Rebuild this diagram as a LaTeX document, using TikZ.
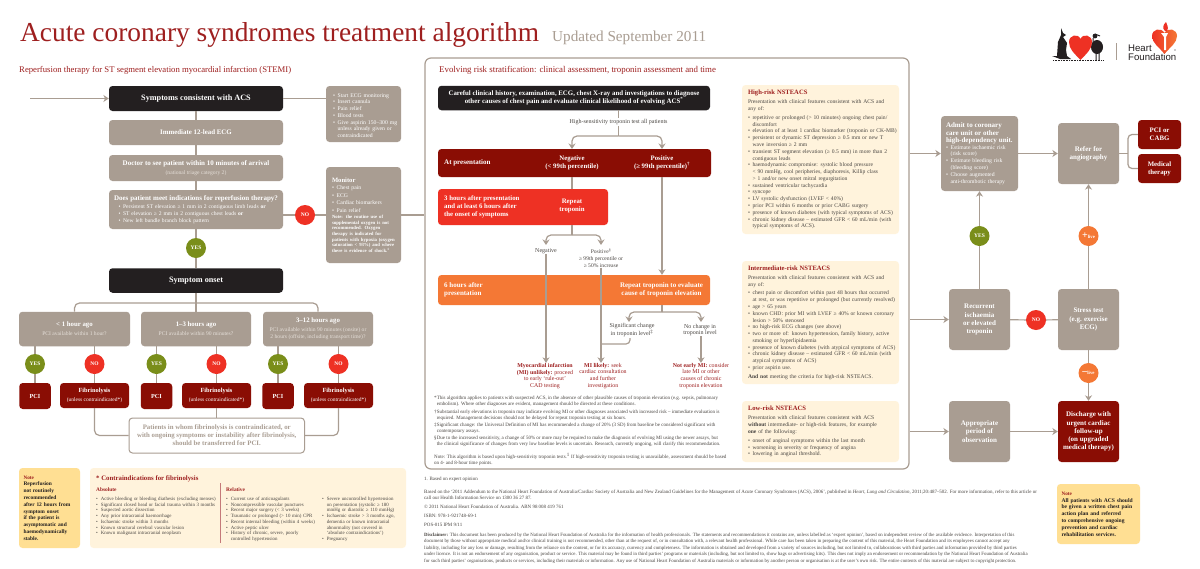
\documentclass[tikz,border=0pt]{standalone}
\usepackage{fontspec}
\setmainfont{Liberation Serif}
\newfontfamily\logofont{Liberation Sans}
\usetikzlibrary{arrows.meta,calc}
\definecolor{Taupe}{HTML}{A99D92}
\definecolor{Pale}{HTML}{E6E0DA}
\definecolor{Ink}{HTML}{231F20}
\definecolor{Crimson}{HTML}{8A0D04}
\definecolor{Hot}{HTML}{EE3124}
\definecolor{Tangerine}{HTML}{F47835}
\definecolor{Olive}{HTML}{7A8E1A}
\definecolor{Cream}{HTML}{FFF3DC}
\definecolor{Butter}{HTML}{FFDF93}
\definecolor{HeadRed}{HTML}{9E1F1F}
\definecolor{Body}{HTML}{4A4642}
\newcommand{\fs}[2]{\fontsize{#1}{#2}\selectfont}
\newcommand{\pad}[1]{\leftskip=#1pt\relax}
\newcommand{\bl}{\par\leavevmode\hbox to 4.6pt{\textbullet\hss}}
\newcommand{\cn}{\\\hspace*{4.6pt}}
\tikzset{
  box/.style={fill=Taupe,text=white,rounded corners=3.5pt,align=center,inner sep=0pt},
  sz/.style 2 args={minimum width=#1pt,minimum height=#2pt},
  blackbox/.style={box,fill=Ink},
  redbox/.style={box,fill=Crimson},
  hotbox/.style={box,fill=Hot},
  orangebox/.style={box,fill=Tangerine},
  creambox/.style={box,fill=Cream,text=Body,align=left},
  notebox/.style={box,fill=Butter,text=Ink,align=left},
  yesdot/.style={circle,fill=Olive,text=white,minimum size=20pt,inner sep=0pt,font=\fs{5.5}{6}\bfseries},
  nodot/.style={yesdot,fill=Hot},
  livedot/.style={yesdot,fill=Tangerine},
  flow/.style={draw=Taupe,line width=1.2pt},
  arr/.style={flow,-{Stealth[length=5.5pt,width=7pt]}},
  lbl/.style={align=center,inner sep=0pt,text=Body,font=\fs{6}{6.8}},
  tiny/.style={align=left,inner sep=0pt,anchor=north west,text=Body,font=\fs{5}{6}},
  small/.style={tiny,font=\fs{4.95}{5.6}},
  riskbox/.style={creambox,text width=157pt,inner xsep=0pt,font=\fs{5.6}{6.78}},
}
\begin{document}
\begin{tikzpicture}[x=1pt,y=-1pt]
  \useasboundingbox (0,0) rectangle (1200,568);
  \fill[white] (0,0) rectangle (1200,568);
  % title
  \node[anchor=base west,inner sep=0pt,text=HeadRed,font=\fs{27.4}{30}] (title) at (20,41) {Acute coronary syndromes treatment algorithm};
  \node[anchor=base west,inner sep=0pt,text=Taupe,font=\fs{15.2}{17}] (updated) at (552,41) {Updated September 2011};
  \node[anchor=base west,inner sep=0pt,text=HeadRed,font=\fs{8.7}{9}] (stemi) at (19,72) {Reperfusion therapy for ST segment elevation myocardial infarction (STEMI)};
  % logo
  \fill[Ink] (1061,28) -- (1063,33) -- (1066,35) -- (1063,37) -- (1067,43) -- (1066,50) -- (1067,56) -- (1071,59) -- (1060,59) -- (1052,56) -- (1057,56) -- (1058,42) -- (1061,35) -- cycle;
  \fill[Ink] (1097,47) ellipse (6pt and 7pt);
  \fill[Ink] (1095,36) circle (2.4pt);
  \draw[Ink,line width=1pt] (1095,34) -- (1100,36) (1093,38) -- (1093,44) (1096,52) -- (1096,60) (1099,52) -- (1099,60);
  \draw[Ink,line width=.6pt,densely dotted] (1053,60) -- (1103,60);
  \fill[Hot] (1080.5,60) .. controls (1074,53) and (1069,49) .. (1069,42) .. controls (1069,35) and (1078,33) .. (1080.5,39) .. controls (1083,33) and (1092,35) .. (1092,42) .. controls (1092,49) and (1087,53) .. (1080.5,60) -- cycle;
  \draw[Taupe,line width=.7pt] (1116,43) -- (1116,60);
  \node[anchor=base west,inner sep=0pt,text=Ink,font=\fs{9.6}{10}\logofont] (heartTxt) at (1128,51.5) {Heart};
  \node[anchor=base west,inner sep=0pt,text=Ink,font=\fs{9.6}{10}\logofont] (foundTxt) at (1128,60.5) {Foundation};
  \shade[left color=Hot,right color=Tangerine] (1164.5,54) .. controls (1159,47) and (1152,43) .. (1152,36) .. controls (1152,29) and (1161,27) .. (1164.5,33) .. controls (1168,27) and (1177,29) .. (1177,36) .. controls (1177,43) and (1170,47) .. (1164.5,54) -- cycle;
  \fill[Hot] (1165,31) .. controls (1162,28) and (1163,25) .. (1166,22) .. controls (1167,25) and (1169,27) .. (1167,31) -- cycle;
  \fill[white] (1161,33) -- (1168,33) -- (1166,37) -- (1166,50) -- (1164,50) -- (1164,37) -- cycle;
  \fill[Ink] (1175,50) circle (.7pt);
  % STEMI pathway
  \coordinate (startArr) at (30,98.5);
  \node[blackbox,sz={174}{25},font=\fs{8.2}{10}\bfseries] (acs) at (196,98.5) {Symptoms consistent with ACS};
  \node[box,sz={174}{25},font=\fs{6.9}{9}\bfseries] (ecg) at (196,132.5) {Immediate 12-lead ECG};
  \node[box,sz={174}{26},font=\fs{6}{9}] (doctor) at (196,168) {{\fs{7}{9}\bfseries Doctor to see patient within 10 minutes of arrival}\\{\fs{5.6}{6.5}\color{Pale}(national triage category 2)}};
  \node[box,sz={174}{39},align=left,text width=155pt,inner xsep=9.5pt,font=\fs{5.6}{6.8}\color{Pale}] (indic) at (196,209.5) {\makebox[\linewidth][c]{\fs{7}{8.6}\bfseries\color{white}Does patient meet indications for reperfusion therapy?}\par\vspace{1pt}
    \bl Persistent ST elevation ≥ 1 mm in 2 contiguous limb leads {\color{white}\bfseries or}
    \bl ST elevation ≥ 2 mm in 2 contiguous chest leads {\color{white}\bfseries or}
    \bl New left bundle branch block pattern\par};
  \node[yesdot] (yesA) at (196,248) {YES};
  \node[box,blackbox,sz={174}{24.5},font=\fs{8.2}{10}\bfseries] (onset) at (196,280.5) {Symptom onset};
  \node[box,sz={75}{56},align=left,text width=71pt,inner xsep=2pt,font=\fs{5.7}{6.7}\color{Pale}] (first) at (363.5,114) {\pad{5}\bl Start ECG monitoring
    \bl Insert cannula
    \bl Pain relief
    \bl Blood tests
    \bl Give aspirin 150--300 mg\cn unless already given or\cn contraindicated\par};
  \node[nodot] (noA) at (305,215) {NO};
  \node[box,sz={75}{96},align=left,text width=67pt,inner xsep=4pt,font=\fs{5.7}{7.6}\color{Pale}] (monitor) at (363.5,215) {\pad{2}{\fs{6.6}{8}\bfseries\color{white}Monitor}
    \bl Chest pain
    \bl ECG
    \bl Cardiac biomarkers
    \bl Pain relief\par\vspace{.5pt}
    {\fs{4.75}{5.65}\bfseries\color{white}Note: the routine use of\\supplemental oxygen is not\\recommended. Oxygen\\therapy is indicated for\\patients with hypoxia (oxygen\\saturation < 93\%) and where\\there is evidence of shock.\textsuperscript{1}\par}};
  \draw[arr] (startArr) -- (acs.west);
  \draw[flow] (acs.east) -- (first.west |- acs.east);
  \draw[flow] (acs) -- (ecg);
  \draw[flow] (ecg) -- (doctor);
  \draw[flow] (doctor) -- (indic);
  \draw[flow] (indic) -- (yesA);
  \draw[flow] (yesA) -- (onset);
  \draw[flow] (indic.east |- noA) -- (noA);
  \draw[flow] (noA) -- (monitor.west);
  % hours since onset
  \node[box,sz={111}{34.5},font=\fs{6}{9}] (hrA) at (74.5,329) {{\fs{6.8}{8.4}\bfseries < 1 hour ago}\\{\fs{5.6}{6.4}\color{Pale}PCI available within 1 hour?}};
  \node[box,sz={110}{34.5},font=\fs{6}{9}] (hrB) at (196,329) {{\fs{6.8}{8.4}\bfseries 1--3 hours ago}\\{\fs{5.6}{6.4}\color{Pale}PCI available within 90 minutes?}};
  \node[box,sz={110}{34.5},font=\fs{6}{9}] (hrC) at (318,329) {{\fs{6.8}{8.4}\bfseries 3--12 hours ago}\\{\fs{5.6}{6.4}\color{Pale}PCI available within 90 minutes (onsite) or}\\[-2.2pt]{\fs{5.6}{6.4}\color{Pale}2 hours (offsite, including transport time)?}};
  \coordinate (onsetJ) at (196,303);
  \draw[flow,rounded corners=5pt] (hrA.north) |- (onsetJ) -| (hrC.north);
  \draw[flow] (onset) -- (hrB);
  \node[box,sz={175.5}{35},fill=white,draw=Taupe,line width=1pt,text=Taupe,font=\fs{6.8}{7.9}\bfseries] (transfer) at (216.75,435.5) {Patients in whom fibrinolysis is contraindicated, or\\with ongoing symptoms or instability after fibrinolysis,\\should be transferred for PCI.};
  \foreach \n/\h/\xa/\xb in {1/hrA/35/94.5,2/hrB/156.5/216.5,3/hrC/278/338.5}{
    \node[yesdot] (yes\n) at (\xa,364) {YES};
    \node[nodot] (no\n) at (\xb,364) {NO};
    \node[redbox,sz={31.5}{26},font=\fs{6.2}{8}\bfseries] (pci\n) at (\xa,396) {PCI};
    \node[redbox,sz={69}{25},font=\fs{6}{9.3}] (fib\n) at (\xb,395.5) {{\fs{6.3}{8}\bfseries Fibrinolysis}\\{\fs{5.5}{6}(unless contraindicated*)}};
    \draw[flow] (\h.south -| yes\n) -- (yes\n);
    \draw[flow] (\h.south -| no\n) -- (no\n);
    \draw[flow] (yes\n) -- (pci\n);
    \draw[flow] (no\n) -- (fib\n);
  }
  \draw[flow,rounded corners=5pt] (fib1.south) |- (transfer.west);
  \draw[flow] (fib2.south) -- (transfer.north -| fib2.south);
  \draw[flow,rounded corners=5pt] (fib3.south) |- (transfer.east);
  % notes under STEMI
  \node[notebox,sz={61}{80},text width=52pt,inner xsep=4.5pt,font=\fs{5.45}{6.8}\bfseries] (noteL) at (49.5,508) {{\fs{5.2}{7.4}\color{HeadRed}Note}\\Reperfusion\\not routinely\\recommended\\after 12 hours from\\symptom onset\\if the patient is\\asymptomatic and\\haemodynamically\\stable.};
  \node[creambox,sz={316}{80}] (contra) at (248,508) {};
  \node[anchor=base west,inner sep=0pt,text=HeadRed,font=\fs{6.8}{9}\bfseries] (contraHead) at (96,480) {* Contraindications for fibrinolysis};
  \node[anchor=base west,inner sep=0pt,text=HeadRed,font=\fs{5.4}{6}\bfseries] (absHead) at (96,491) {Absolute};
  \node[anchor=base west,inner sep=0pt,text=HeadRed,font=\fs{5.4}{6}\bfseries] (relHead) at (226,491) {Relative};
  \node[tiny,text width=125pt,font=\fs{4.9}{5.75}] (absList) at (96,494.5) {\bl Active bleeding or bleeding diathesis (excluding menses)
    \bl Significant closed head or facial trauma within 3 months
    \bl Suspected aortic dissection
    \bl Any prior intracranial haemorrhage
    \bl Ischaemic stroke within 3 months
    \bl Known structural cerebral vascular lesion
    \bl Known malignant intracranial neoplasm\par};
  \node[tiny,text width=92pt,font=\fs{4.9}{5.75}] (relList) at (226,494.5) {\bl Current use of anticoagulants
    \bl Noncompressible vascular punctures
    \bl Recent major surgery (< 3 weeks)
    \bl Traumatic or prolonged (> 10 min) CPR
    \bl Recent internal bleeding (within 4 weeks)
    \bl Active peptic ulcer
    \bl History of chronic, severe, poorly\cn controlled hypertension\par};
  \node[tiny,text width=80pt,font=\fs{4.9}{5.75}] (relExtra) at (322,494.5) {\bl Severe uncontrolled hypertension\cn on presentation (systolic ≥ 180\cn mmHg or diastolic ≥ 110 mmHg)
    \bl Ischaemic stroke > 3 months ago,\cn dementia or known intracranial\cn abnormality (not covered in\cn `absolute contraindications')
    \bl Pregnancy\par};
  \coordinate (divTop) at (220,483);
  \coordinate (divEnd) at (220,543);
  \draw[HeadRed!60,line width=.6pt] (divTop) -- (divEnd);
  % evolving risk frame
  \node[draw=Taupe,line width=1.2pt,rounded corners=6pt,minimum width=484pt,minimum height=411pt,inner sep=0pt] (frame) at (667,263.5) {};
  \draw[flow] (monitor.east) -- (frame.west |- monitor.east);
  \node[anchor=base west,inner sep=0pt,text=HeadRed,font=\fs{8.85}{9}] (evolving) at (439,72) {Evolving risk stratification: clinical assessment, troponin assessment and time};
  \node[blackbox,sz={272}{24.5},font=\fs{6.85}{8.2}\bfseries] (history) at (574,98) {Careful clinical history, examination, ECG, chest X-ray and investigations to diagnose\\other causes of chest pain and evaluate clinical likelihood of evolving ACS\textsuperscript{*}};
  \node[lbl,fill=white,inner ysep=1pt,font=\fs{6}{6.5}] (hsTest) at (618.5,122) {High-sensitivity troponin test all patients};
  \node[redbox,sz={273}{28}] (atPres) at (574.5,163) {};
  \node[anchor=west,inner sep=0pt,text=white,font=\fs{7}{8}\bfseries] (atPresTxt) at (444,163) {At presentation};
  \node[inner sep=0pt,align=center,text=white,font=\fs{6.8}{8.3}\bfseries] (negTxt) at (572,163) {Negative\\(< 99th percentile)};
  \node[inner sep=0pt,align=center,text=white,font=\fs{6.8}{8.3}\bfseries] (posTxt) at (662,163) {Positive\\(≥ 99th percentile)\textsuperscript{\dag}};
  \coordinate (hsJ) at (618.5,136);
  \coordinate (negIn) at (572,149);
  \coordinate (posIn) at (662,149);
  \draw[flow] (history.south -| hsTest) -- (hsTest);
  \draw[flow] (hsTest) -- (hsJ);
  \draw[arr,rounded corners=5pt] (hsJ) -| (negIn);
  \draw[arr,rounded corners=5pt] (hsJ) -| (posIn);
  \node[hotbox,sz={170}{36}] (threeH) at (523,207) {};
  \node[anchor=west,inner sep=0pt,align=left,text=white,font=\fs{6.8}{8.3}\bfseries] (threeTxt) at (444,207) {3 hours after presentation\\and at least 6 hours after\\the onset of symptoms};
  \node[inner sep=0pt,align=center,text=white,font=\fs{6.8}{8.3}\bfseries] (repeatTxt) at (572,206) {Repeat\\troponin};
  \draw[flow] (atPres.south -| negIn) -- (threeH.north -| negIn);
  \coordinate (threeJ) at (572,235);
  \coordinate (rNegIn) at (546,245);
  \coordinate (rPosIn) at (601,245);
  \draw[flow] (threeH.south -| threeJ) -- (threeJ);
  \draw[arr,rounded corners=5pt] (threeJ) -| (rNegIn);
  \draw[arr,rounded corners=5pt] (threeJ) -| (rPosIn);
  \node[lbl] (rNeg) at (546,251) {Negative};
  \node[lbl,font=\fs{5.6}{6.8}] (rPos) at (601,258) {Positive\textsuperscript{\S}\\≥ 99th percentile or\\≥ 50\% increase};
  \node[orangebox,sz={272}{30}] (sixH) at (574,290) {};
  \node[anchor=west,inner sep=0pt,align=left,text=white,font=\fs{7}{8.2}\bfseries] (sixTxt) at (444,290) {6 hours after\\presentation};
  \node[inner sep=0pt,align=center,text=white,font=\fs{7}{8.2}\bfseries] (evalTxt) at (661.5,290) {Repeat troponin to evaluate\\cause of troponin elevation};
  \draw[arr] (atPres.south -| posIn) -- (sixH.north -| posIn);
  \coordinate (sixJ) at (662,312);
  \coordinate (sigIn) at (629,322);
  \coordinate (noIn) at (701,322);
  \draw[flow] (sixH.south -| sixJ) -- (sixJ);
  \draw[arr,rounded corners=5pt] (sixJ) -| (sigIn);
  \draw[arr,rounded corners=5pt] (sixJ) -| (noIn);
  \node[lbl] (sigLbl) at (632,330) {Significant change\\in troponin level\textsuperscript{\ddag}};
  \node[lbl] (noLbl) at (700,330) {No change in\\troponin level};
  \node[lbl,text=HeadRed,font=\fs{5.9}{6.85}] (outA) at (545,376) {{\bfseries Myocardial infarction}\\{\bfseries (MI) unlikely:} proceed\\to early `rule-out'\\CAD testing};
  \node[lbl,text=HeadRed,font=\fs{5.9}{6.85}] (outB) at (603,376) {{\bfseries MI likely:} seek\\cardiac consultation\\and further\\investigation};
  \node[lbl,text=HeadRed,font=\fs{5.9}{6.85}] (outC) at (701,376) {{\bfseries Not early MI:} consider\\late MI or other\\causes of chronic\\troponin elevation};
  \draw[arr] (rNeg.south -| rNegIn) -- (outA.north -| rNegIn);
  \draw[arr] (rPos.south -| rPosIn) -- (outB.north -| rPosIn);
  \coordinate (sigJ) at (601,344);
  \coordinate (sigOut) at (630,338);
  \draw[flow,rounded corners=4pt] (sigOut) |- (sigJ);
  \draw[arr] (noLbl.south -| noIn) -- (outC.north -| noIn);
  % footnotes inside the frame
  \node[tiny] (noteA) at (434,396) {\hbox to 2.6pt{*\hss}This algorithm applies to patients with suspected ACS, in the absence of other plausible causes of troponin elevation (e.g. sepsis, pulmonary\\\hspace*{2.6pt}embolism). Where other diagnoses are evident, management should be directed at these conditions.};
  \node[tiny] (noteB) at (434,409.5) {\hbox to 2.6pt{\dag\hss}Substantial early elevations in troponin may indicate evolving MI or other diagnoses associated with increased risk -- immediate evaluation is\\\hspace*{2.6pt}required. Management decisions should not be delayed for repeat troponin testing at six hours.};
  \node[tiny] (noteC) at (434,422.5) {\hbox to 2.6pt{\ddag\hss}Significant change: the Universal Definition of MI has recommended a change of 20\% (3 SD) from baseline be considered significant with\\\hspace*{2.6pt}contemporary assays.};
  \node[tiny] (noteD) at (434,435.5) {\hbox to 2.6pt{\S\hss}Due to the increased sensitivity, a change of 50\% or more may be required to make the diagnosis of evolving MI using the newer assays, but\\\hspace*{2.6pt}the clinical significance of changes from very low baseline levels is uncertain. Research, currently ongoing, will clarify this recommendation.};
  \node[tiny] (noteE) at (434,452.5) {Note: This algorithm is based upon high-sensitivity troponin tests.\textsuperscript{1} If high-sensitivity troponin testing is unavailable, assessment should be based\\on 4- and 8-hour time points.};
  % NSTEACS panels
  \node[riskbox,sz={157}{149}] (high) at (820.5,159.5) {\pad{6}{\fs{6.6}{8.4}\bfseries\color{HeadRed}High-risk NSTEACS}\par\vspace{2.5pt}
    Presentation with clinical features consistent with ACS and\\any of:\par\vspace{2pt}
    \bl repetitive or prolonged (> 10 minutes) ongoing chest pain/\cn discomfort
    \bl elevation of at least 1 cardiac biomarker (troponin or \mbox{CK-MB})
    \bl persistent or dynamic ST depression ≥ 0.5 mm or new T\cn wave inversion ≥ 2 mm
    \bl transient ST segment elevation (≥ 0.5 mm) in more than 2\cn contiguous leads
    \bl haemodynamic compromise: systolic blood pressure\cn < 90 mmHg, cool peripheries, diaphoresis, Killip class\cn > 1 and/or new onset mitral regurgitation
    \bl sustained ventricular tachycardia
    \bl syncope
    \bl LV systolic dysfunction (LVEF < 40\%)
    \bl prior PCI within 6 months or prior CABG surgery
    \bl presence of known diabetes (with typical symptoms of ACS)
    \bl chronic kidney disease -- estimated GFR < 60 mL/min (with\cn typical symptoms of ACS).\par};
  \node[riskbox,sz={157}{123}] (inter) at (820.5,322.5) {\pad{6}{\fs{6.6}{8.4}\bfseries\color{HeadRed}Intermediate-risk NSTEACS}\par\vspace{2.5pt}
    Presentation with clinical features consistent with ACS and\\any of:\par\vspace{2pt}
    \bl chest pain or discomfort within past 48 hours that occurred\cn at rest, or was repetitive or prolonged (but currently resolved)
    \bl age > 65 years
    \bl known CHD: prior MI with LVEF ≥ 40\% or known coronary\cn lesion > 50\% stenosed
    \bl no high-risk ECG changes (see above)
    \bl two or more of: known hypertension, family history, active\cn smoking or hyperlipidaemia
    \bl presence of known diabetes (with atypical symptoms of ACS)
    \bl chronic kidney disease -- estimated GFR < 60 mL/min (with\cn atypical symptoms of ACS)
    \bl prior aspirin use.\par\vspace{2pt}
    {\bfseries And not} meeting the criteria for high-risk NSTEACS.\par};
  \node[riskbox,sz={157}{61}] (low) at (820.5,431.5) {\pad{6}{\fs{6.6}{8.4}\bfseries\color{HeadRed}Low-risk NSTEACS}\par\vspace{2.5pt}
    Presentation with clinical features consistent with ACS\\{\bfseries without} intermediate- or high-risk features, for example\\{\bfseries one} of the following:\par\vspace{2pt}
    \bl onset of anginal symptoms within the last month
    \bl worsening in severity or frequency of angina
    \bl lowering in anginal threshold.\par};
  % disposition
  \node[box,sz={77}{75},align=left,text width=67pt,inner xsep=5pt,font=\fs{5.7}{6.8}\color{Pale}] (admit) at (979.5,153.5) {{\fs{7}{8.1}\bfseries\color{white}Admit to coronary\\care unit or other\\high-dependency unit.}
    \bl Estimate ischaemic risk\cn (risk score)
    \bl Estimate bleeding risk\cn (bleeding score)
    \bl Choose augmented\cn anti-thrombotic therapy\par};
  \node[box,sz={61}{61},font=\fs{7}{8.2}\bfseries] (refer) at (1088.5,153.5) {Refer for\\angiography};
  \node[redbox,sz={43}{29},font=\fs{6.8}{8}\bfseries] (cabg) at (1159.5,134.5) {PCI or\\CABG};
  \node[redbox,sz={43}{29},font=\fs{6.8}{8}\bfseries] (medical) at (1159.5,168.5) {Medical\\therapy};
  \node[box,sz={61}{61},font=\fs{7}{8.1}\bfseries] (recur) at (979.5,319.5) {Recurrent\\ischaemia\\or elevated\\troponin};
  \node[box,sz={61}{61},font=\fs{7}{8.1}\bfseries] (stress) at (1088.5,319.5) {Stress test\\(e.g. exercise\\ECG)};
  \node[box,sz={61}{61},font=\fs{7}{8.1}\bfseries] (observe) at (979.5,431.5) {Appropriate\\period of\\observation};
  \node[redbox,sz={61}{61},font=\fs{7}{8.1}\bfseries] (discharge) at (1088.5,431.5) {Discharge with\\urgent cardiac\\follow-up\\(on upgraded\\medical therapy)};
  \node[yesdot] (yesB) at (979.5,236) {YES};
  \node[livedot] (plusLive) at (1088.5,236) {{\fs{10}{10}\bfseries +}{\fs{4.8}{6}live}};
  \node[nodot] (noB) at (1036,320) {NO};
  \node[livedot] (minusLive) at (1088.5,373) {{\fs{10}{10}\bfseries --}{\fs{4.8}{6}live}};
  \draw[arr] (frame.east |- admit) -- (admit);
  \draw[arr] (frame.east |- recur) -- (recur);
  \draw[arr] (frame.east |- observe) -- (observe);
  \draw[arr] (admit) -- (refer);
  \draw[flow] (recur) -- (yesB);
  \draw[arr] (yesB) -- (admit);
  \draw[flow] (stress) -- (plusLive);
  \draw[arr] (plusLive) -- (refer);
  \draw[flow] (recur) -- (noB);
  \draw[flow] (noB) -- (stress);
  \draw[flow] (stress) -- (minusLive);
  \draw[arr] (minusLive) -- (discharge);
  \draw[arr] (observe) -- (discharge);
  \coordinate (referJ) at (1128,153.5);
  \draw[flow] (refer) -- (referJ);
  \draw[flow,rounded corners=4pt] (cabg.west) -| (referJ) |- (medical.west);
  \node[notebox,sz={83}{60},text width=74pt,inner xsep=4.5pt,font=\fs{5.6}{6.78}\bfseries] (noteR) at (1098.5,514) {{\fs{5.2}{8}\color{HeadRed}Note}\\All patients with ACS should\\be given a written chest pain\\action plan and referred\\to comprehensive ongoing\\prevention and cardiac\\rehabilitation services.};
  % small print
  \node[small] (refA) at (424,477) {1. Based on expert opinion};
  \node[small,font=\fs{4.95}{6.6}] (refB) at (424,489.5) {Based on the `2011 Addendum to the National Heart Foundation of Australia/Cardiac Society of Australia and New Zealand Guidelines for the Management of Acute Coronary Syndromes (ACS), 2006', published in {\itshape Heart, Lung and Circulation}, 2011;20:487--502. For more information, refer to this article or\\call our Health Information Service on 1300 36 27 87.};
  \node[small] (refC) at (424,505) {\copyright{} 2011 National Heart Foundation of Australia. ABN 98 008 419 761};
  \node[small] (refD) at (424,514) {ISBN: 978-1-921748-69-1};
  \node[small] (refE) at (424,523.5) {POS-015 IPM 9/11};
  \node[small,font=\fs{4.85}{6.6}] (disclaimer) at (424,532.5) {{\bfseries Disclaimer:} This document has been produced by the National Heart Foundation of Australia for the information of health professionals. The statements and recommendations it contains are, unless labelled as `expert opinion', based on independent review of the available evidence. Interpretation of this\\document by those without appropriate medical and/or clinical training is not recommended, other than at the request of, or in consultation with, a relevant health professional. While care has been taken in preparing the content of this material, the Heart Foundation and its employees cannot accept any\\liability, including for any loss or damage, resulting from the reliance on the content, or for its accuracy, currency and completeness. The information is obtained and developed from a variety of sources including, but not limited to, collaborations with third parties and information provided by third parties\\under licence. It is not an endorsement of any organisation, product or service. This material may be found in third parties' programs or materials (including, but not limited to, show bags or advertising kits). This does not imply an endorsement or recommendation by the National Heart Foundation of Australia\\for such third parties' organisations, products or services, including their materials or information. Any use of National Heart Foundation of Australia materials or information by another person or organisation is at the user's own risk. The entire contents of this material are subject to copyright protection.};
\end{tikzpicture}
\end{document}
